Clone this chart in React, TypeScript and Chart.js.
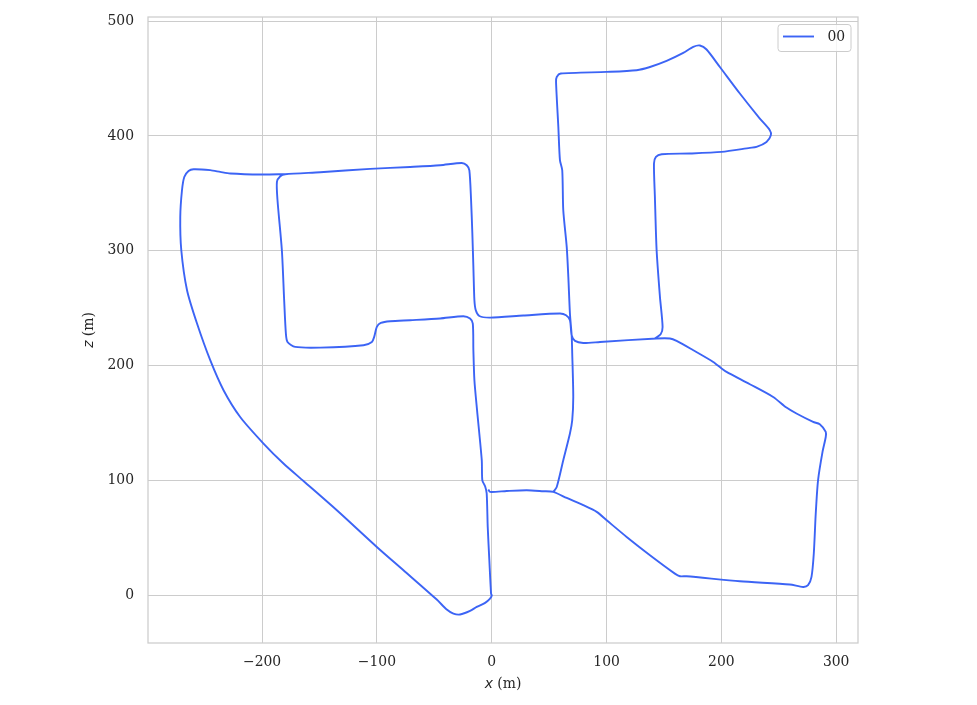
import React, { useEffect, useRef } from "react";
import { Chart, registerables } from "chart.js";

Chart.register(...registerables);

// ---- data (x, z in metres) ----
const seriesName = "00";
const xTickValues = [-200, -100, 0, 100, 200, 300];
const yTickValues = [0, 100, 200, 300, 400, 500];
const xLimits = [-299.4, 319.0];
const yLimits = [-41.3, 503.5];

type P = [number, number];

const outerLoop: P[] = [
  [-179.9, 366.7], [-200.2, 366.4], [-227.8, 367.3], [-236.5, 368.7], [-245.2, 370.2],
  [-259.7, 371.0], [-264.1, 369.5], [-267.8, 364.3], [-269.8, 352.7], [-271.3, 329.5],
  [-270.4, 300.5], [-265.4, 265.7], [-256.7, 236.7], [-245.2, 204.8], [-233.6, 178.7],
  [-219.1, 155.4], [-198.8, 132.3], [-181.4, 114.9], [-164.0, 99.7], [-134.9, 74.2],
  [-100.1, 42.3], [-76.9, 22.0], [-47.9, -3.5], [-39.2, -12.2], [-33.4, -15.7],
  [-27.6, -16.5], [-18.9, -13.4], [-13.1, -9.9], [-5.8, -6.4], [-1.5, -2.6], [0, 0],
];

const startRun: P[] = [
  [-0.6, 1.7], [-2.1, 30.7], [-3.5, 59.7], [-4.4, 88.8],
];

const innerSquare: P[] = [
  [-5.8, 95.1], [-8.2, 100.3], [-8.7, 117.8], [-12.8, 161.3], [-15.1, 187.4],
  [-16.0, 213.5], [-16.5, 236.7], [-18.9, 241.1], [-24.7, 243.1], [-45.0, 241.1],
  [-71.1, 239.6], [-88.5, 238.7], [-96.6, 237.2], [-100.1, 233.8], [-102.4, 225.1],
  [-104.4, 220.7], [-111.7, 217.8], [-149.4, 215.8], [-171.2, 216.4], [-177.9, 220.7],
  [-179.3, 228.0], [-180.8, 257.0], [-182.8, 300.5], [-186.6, 344.0], [-187.1, 360.0],
  [-184.2, 364.9], [-179.9, 366.7],
];

const centerCross: P[] = [
  [-149.4, 368.4], [-105.9, 371.3], [-71.1, 373.0], [-45.0, 374.5], [-26.1, 376.5],
  [-21.8, 374.5], [-19.5, 370.1], [-18.0, 344.0], [-16.9, 315.1], [-16.0, 286.0],
  [-15.1, 257.0], [-13.9, 248.3], [-10.8, 243.3], [-1.5, 241.9], [27.5, 243.7],
  [59.4, 245.4], [64.7, 243.9], [68.1, 239.6], [69.6, 226.5], [72.5, 221.6],
  [79.7, 219.8], [94.3, 220.7], [143.6, 223.7],
];

const rightLoop: P[] = [
  [155.2, 223.7], [161.0, 221.6], [175.5, 213.5], [192.9, 203.3], [200.2, 197.6],
  [204.5, 194.6], [224.8, 183.9], [245.1, 172.8], [256.7, 163.6], [265.4, 158.4],
  [279.9, 151.1], [285.7, 149.1], [290.9, 142.4], [290.9, 138.0], [288.1, 125.0],
  [284.2, 100.3], [282.2, 71.4], [280.5, 36.6], [278.5, 16.2], [275.5, 9.0],
  [271.2, 7.5], [259.6, 9.6], [216.1, 12.4], [169.7, 16.8], [163.9, 16.8],
  [159.5, 19.1], [137.8, 35.1], [117.5, 51.0], [100.1, 65.5], [91.4, 72.8],
  [79.7, 78.6], [65.3, 84.9], [53.6, 90.2],
];

const bottomLink: P[] = [
  [44.9, 90.8], [30.5, 91.6], [13.1, 91.0], [-1.5, 90.2], [-3.0, 92.3],
];

const topLoop: P[] = [
  [142.1, 223.9], [147.1, 227.4], [148.8, 233.8], [146.5, 259.9], [143.6, 300.5],
  [142.1, 346.9], [141.3, 376.0], [143.0, 381.7], [148.0, 384.1], [172.6, 384.7],
  [200.2, 386.1], [224.8, 389.6], [230.6, 390.4], [239.3, 394.8], [243.1, 400.6],
  [242.2, 405.0], [233.5, 415.1], [216.1, 436.9], [198.7, 460.0], [187.1, 475.2],
  [181.3, 478.7], [175.5, 477.5], [166.8, 472.2], [152.3, 465.3], [137.8, 460.0],
  [126.2, 457.2], [100.1, 455.7], [60.1, 454.3], [56.6, 451.3], [56.0, 447.0],
  [58.0, 407.8], [59.4, 378.9], [61.4, 370.1], [62.3, 335.3], [65.3, 303.4],
  [66.7, 277.3], [68.1, 245.4], [69.6, 226.5], [70.1, 210.6], [71.0, 172.8],
  [70.1, 152.6], [68.1, 141.0], [62.3, 117.8], [56.6, 94.5], [53.6, 90.2],
];

// ---- styles ----
const LINE = "rgb(60,100,245)";
const GRID = "#cccccc";
const TEXT = "#262626";
const SERIF = "'DejaVu Serif', serif";
const SANS = "'DejaVu Sans', sans-serif";
const FS = 13.9;

function fmt(v: number): string {
  return v < 0 ? "\u2212" + Math.abs(v) : String(v);
}

export default function App() {
  const ref = useRef<HTMLCanvasElement>(null);

  useEffect(() => {
    if (!ref.current) return;
    const pts = (a: P[]) => a.map(([x, y]) => ({ x, y }));
    const data: any[] = [
      ...pts(outerLoop),
      ...pts(startRun),
      ...pts(innerSquare),
      ...pts(centerCross),
      ...pts(rightLoop),
      ...pts(bottomLink),
      { x: null, y: null },
      ...pts(topLoop),
    ];

    const drawParts = (ctx: CanvasRenderingContext2D, parts: { t: string; f: string }[], cx: number, cy: number) => {
      let total = 0;
      const widths = parts.map((p) => {
        ctx.font = p.f;
        const w = ctx.measureText(p.t).width;
        total += w;
        return w;
      });
      let x = cx - total / 2;
      ctx.textBaseline = "middle";
      ctx.textAlign = "left";
      parts.forEach((p, i) => {
        ctx.font = p.f;
        ctx.fillText(p.t, x, cy);
        x += widths[i];
      });
    };

    const decor = {
      id: "decor",
      afterDatasetsDraw(chart: any) {
        const { ctx, chartArea: a } = chart;
        ctx.save();
        // frame
        ctx.strokeStyle = GRID;
        ctx.lineWidth = 1.25;
        ctx.strokeRect(a.left, a.top, a.right - a.left, a.bottom - a.top);
        // legend
        const w = 73;
        const h = 27;
        const bx = a.right - 7 - w;
        const by = a.top + 7.5;
        ctx.beginPath();
        if ((ctx as any).roundRect) (ctx as any).roundRect(bx, by, w, h, 3);
        else ctx.rect(bx, by, w, h);
        ctx.fillStyle = "rgba(255,255,255,0.8)";
        ctx.fill();
        ctx.strokeStyle = GRID;
        ctx.lineWidth = 1;
        ctx.stroke();
        ctx.beginPath();
        ctx.strokeStyle = LINE;
        ctx.lineWidth = 1.9;
        ctx.moveTo(bx + 5, by + 12);
        ctx.lineTo(bx + 36, by + 12);
        ctx.stroke();
        ctx.fillStyle = TEXT;
        ctx.font = `${FS}px ${SERIF}`;
        ctx.textAlign = "left";
        ctx.textBaseline = "middle";
        ctx.fillText(chart.data.datasets[0].label, bx + 49.5, by + 12.5);
        // axis titles
        ctx.fillStyle = TEXT;
        drawParts(
          ctx,
          [
            { t: "x", f: `italic ${FS}px ${SANS}` },
            { t: " (m)", f: `${FS}px ${SERIF}` },
          ],
          (a.left + a.right) / 2,
          684
        );
        ctx.save();
        ctx.translate(89, (a.top + a.bottom) / 2);
        ctx.rotate(-Math.PI / 2);
        drawParts(
          ctx,
          [
            { t: "z", f: `italic ${FS}px ${SANS}` },
            { t: " (m)", f: `${FS}px ${SERIF}` },
          ],
          0,
          0
        );
        ctx.restore();
        ctx.restore();
      },
    };

    const tickFont = { family: SERIF, size: FS };

    const chart = new Chart(ref.current, {
      type: "scatter",
      data: {
        datasets: [
          {
            label: seriesName,
            data,
            showLine: true,
            borderColor: LINE,
            backgroundColor: LINE,
            borderWidth: 1.9,
            pointRadius: 0,
            pointHoverRadius: 0,
            tension: 0.25,
            spanGaps: false,
            fill: false,
          } as any,
        ],
      },
      options: {
        animation: false,
        responsive: true,
        maintainAspectRatio: false,
        events: [],
        layout: { padding: { top: 17, right: 119, left: 0, bottom: 0 } },
        plugins: { legend: { display: false }, tooltip: { enabled: false } },
        scales: {
          x: {
            type: "linear",
            min: xLimits[0],
            max: xLimits[1],
            afterBuildTicks: (s: any) => {
              s.ticks = xTickValues.map((v) => ({ value: v }));
            },
            afterFit: (s: any) => {
              s.height = 62;
              s.paddingLeft = 0;
              s.paddingRight = 0;
            },
            grid: { color: GRID, lineWidth: 1, drawTicks: false },
            border: { display: false },
            ticks: {
              padding: 11.5,
              color: TEXT,
              font: tickFont,
              maxRotation: 0,
              autoSkip: false,
              callback: (v: any) => fmt(Number(v)),
            },
          },
          y: {
            type: "linear",
            min: yLimits[0],
            max: yLimits[1],
            afterBuildTicks: (s: any) => {
              s.ticks = yTickValues.map((v) => ({ value: v }));
            },
            afterFit: (s: any) => {
              s.width = 148;
              s.paddingTop = 0;
              s.paddingBottom = 0;
            },
            grid: { color: GRID, lineWidth: 1, drawTicks: false },
            border: { display: false },
            ticks: {
              padding: 14,
              color: TEXT,
              font: tickFont,
              autoSkip: false,
              callback: (v: any) => fmt(Number(v)),
            },
          },
        },
      },
      plugins: [decor],
    });

    return () => chart.destroy();
  }, []);

  return (
    <div style={{ position: "fixed", left: 0, top: 0, width: 977, height: 705, background: "#ffffff" }}>
      <canvas ref={ref} />
    </div>
  );
}
